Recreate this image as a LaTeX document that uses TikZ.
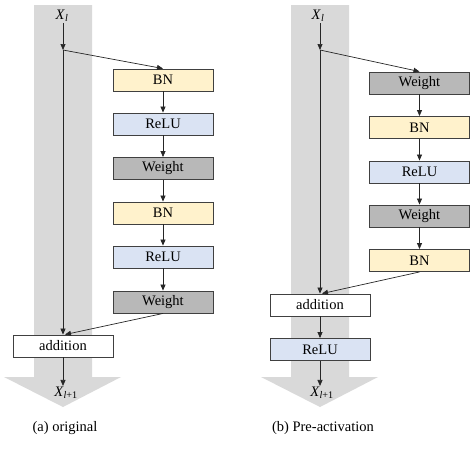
\documentclass[tikz,border=0pt]{standalone}
\usepackage{fontspec}
\setmainfont{Liberation Serif}
\usetikzlibrary{arrows.meta}
\definecolor{bandgray}{HTML}{D9D9D9}
\definecolor{bnfill}{HTML}{FFF2CC}
\definecolor{relufill}{HTML}{DAE3F3}
\definecolor{wfill}{HTML}{B8B8B8}
\definecolor{edge}{HTML}{404040}
\tikzset{
  blk/.style={draw=edge, line width=0.9pt, minimum width=100pt, minimum height=22pt, inner sep=0pt, font=\fontsize{14.5}{16}\selectfont},
  bnbox/.style={blk, fill=bnfill},
  relubox/.style={blk, fill=relufill},
  wbox/.style={blk, fill=wfill},
  addbox/.style={blk, fill=white},
  lbl/.style={inner sep=1pt, font=\fontsize{14.5}{16}\selectfont},
  captext/.style={inner sep=1pt, font=\fontsize{14.5}{16}\selectfont},
  conn/.style={draw=black!85, line width=0.7pt, -{Triangle[length=6pt,width=5pt]}},
  band/.style={fill=bandgray, draw=none}
}
\newcommand{\xl}{\textit{X}\textsubscript{\textit{l}}}
\newcommand{\xlp}{\textit{X}\textsubscript{\textit{l}+1}}
\begin{document}
\begin{tikzpicture}[x=1pt,y=-1pt]
\useasboundingbox (0,0) rectangle (474,451);
% bands
\fill[band] (34,5) -- (92,5) -- (92,377) -- (121,377) -- (63,407) -- (4,377) -- (34,377) -- cycle;
\fill[band] (291,5) -- (349,5) -- (349,377) -- (378,377) -- (320,407) -- (261,377) -- (291,377) -- cycle;
% left panel
\node[lbl] (xa) at (62,16) {\xl};
\coordinate (sa) at (63,50);
\node[bnbox] (bna) at (163,80) {BN};
\node[relubox] (relua) at (163,124) {ReLU};
\node[wbox] (wa) at (163,168.5) {Weight};
\node[bnbox] (bnb) at (163,213) {BN};
\node[relubox] (relub) at (163,257) {ReLU};
\node[wbox] (wb) at (163,302) {Weight};
\node[addbox] (adda) at (63,346) {addition};
\node[lbl] (xpa) at (66,393) {\xlp};
\node[captext] (capa) at (65,428) {(a) original};
\draw[conn] (xa.south -| sa) -- (sa);
\draw[conn] (sa) -- (adda.north);
\draw[conn] (sa) -- (bna.north);
\draw[conn] (bna) -- (relua);
\draw[conn] (relua) -- (wa);
\draw[conn] (wa) -- (bnb);
\draw[conn] (bnb) -- (relub);
\draw[conn] (relub) -- (wb);
\draw[conn] (wb.south) -- ([xshift=2pt]adda.north);
\draw[conn] (adda.south) -- (xpa.north -| adda.south);
% right panel
\node[lbl] (xb) at (318,16) {\xl};
\coordinate (sb) at (320,50);
\node[wbox] (wc) at (419.5,83) {Weight};
\node[bnbox] (bnc) at (419.5,127.5) {BN};
\node[relubox] (reluc) at (419.5,172) {ReLU};
\node[wbox] (wd) at (419.5,216) {Weight};
\node[bnbox] (bnd) at (419.5,260.5) {BN};
\node[addbox] (addb) at (320,305) {addition};
\node[relubox] (relud) at (320,349.5) {ReLU};
\node[lbl] (xpb) at (322,393) {\xlp};
\node[captext] (capb) at (323,428) {(b) Pre-activation};
\draw[conn] (xb.south -| sb) -- (sb);
\draw[conn] (sb) -- (addb.north);
\draw[conn] (sb) -- (wc.north);
\draw[conn] (wc) -- (bnc);
\draw[conn] (bnc) -- (reluc);
\draw[conn] (reluc) -- (wd);
\draw[conn] (wd) -- (bnd);
\draw[conn] (bnd.south) -- ([xshift=2pt]addb.north);
\draw[conn] (addb) -- (relud);
\draw[conn] (relud.south) -- (xpb.north -| relud.south);
\end{tikzpicture}
\end{document}
